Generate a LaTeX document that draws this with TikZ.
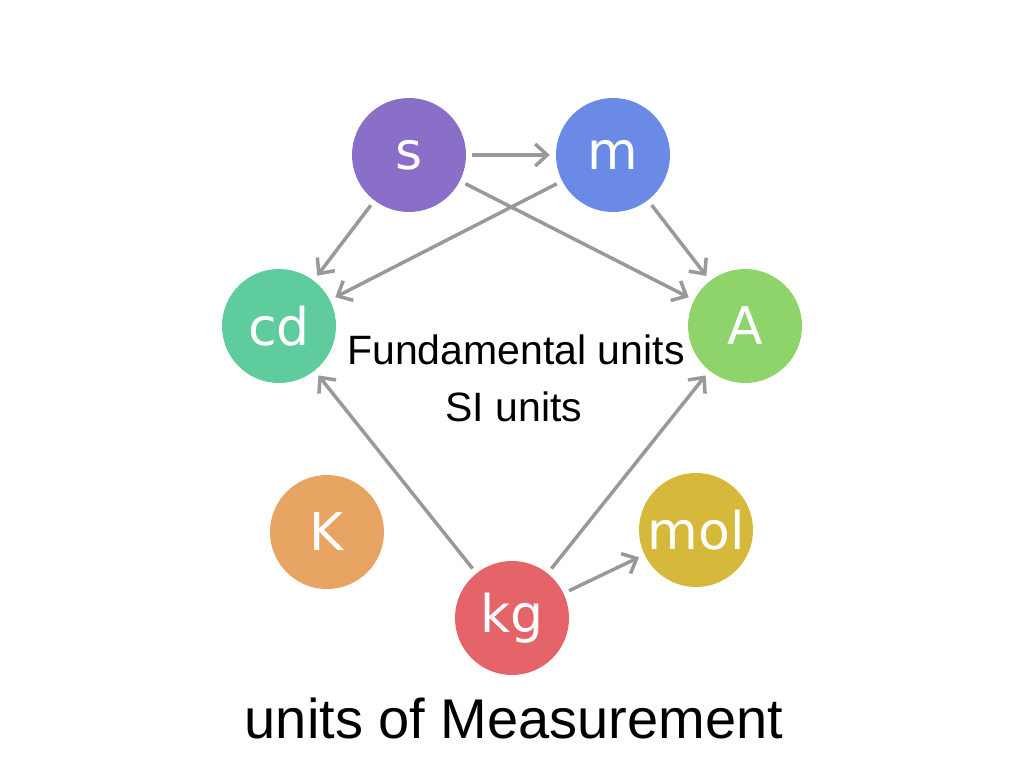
\documentclass[tikz,border=0pt]{standalone}
\usepackage{fontspec}
\setmainfont{Liberation Sans}
\newfontfamily\circfont{DejaVu Sans}
\usetikzlibrary{arrows.meta}
\definecolor{cs}{HTML}{8A6FC8}
\definecolor{cm}{HTML}{6A8AE6}
\definecolor{ccd}{HTML}{5FCC9E}
\definecolor{cA}{HTML}{8ED46A}
\definecolor{cK}{HTML}{E8A463}
\definecolor{cmol}{HTML}{D6B93A}
\definecolor{ckg}{HTML}{E4646A}
\definecolor{arr}{HTML}{999999}
\begin{document}
\begin{tikzpicture}[x=1pt,y=-1pt,
  unit/.style={circle,minimum size=114pt,inner sep=0pt,text=white,font=\circfont\fontsize{52}{54}\selectfont},
  link/.style={draw=arr,line width=3.5pt,-{Straight Barb[length=12pt,width=22pt]},shorten <=6pt,shorten >=6pt}]
\useasboundingbox (0,0) rectangle (1024,768);
\node[unit,fill=cs] (s) at (409,155) {s};
\node[unit,fill=cm] (m) at (613,155) {m};
\node[unit,fill=ccd] (cd) at (279,326) {cd};
\node[unit,fill=cA] (A) at (745,326) {A};
\node[unit,fill=cK] (K) at (327,532) {K};
\node[unit,fill=cmol] (mol) at (696,530) {mol};
\node[unit,fill=ckg] (kg) at (512,618) {kg};
\draw[link] (s) -- (m);
\draw[link] (s) -- (cd);
\draw[link] (m) -- (A);
\draw[link] (s) -- (A);
\draw[link] (m) -- (cd);
\draw[link] (kg) -- (cd);
\draw[link] (kg) -- (A);
\draw[link] (kg) -- (mol);
\node[font=\fontsize{41}{43}\selectfont] (t1) at (516,350) {Fundamental units};
\node[font=\fontsize{41}{43}\selectfont] (t2) at (514,407) {SI units};
\node[font=\fontsize{56}{58}\selectfont] (t3) at (514,718) {units of Measurement};
\end{tikzpicture}
\end{document}
